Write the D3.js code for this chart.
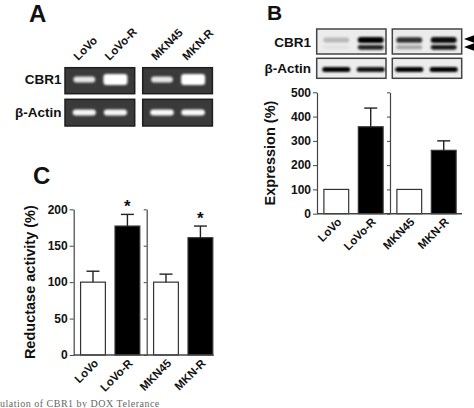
<!DOCTYPE html>
<html><head><meta charset="utf-8">
<script src="https://cdn.jsdelivr.net/npm/d3@7"></script>
<style>
body{margin:0;background:#fff}
svg{display:block}
text{font-family:"Liberation Sans",Arial,sans-serif;font-weight:bold;fill:#111}
</style>
</head><body><svg id="c" width="474" height="408"></svg>
<script>
// ---- data ----
const categories = ["LoVo", "LoVo-R", "MKN45", "MKN-R"];
const expressionValues = [100, 358, 100, 261];
const expressionErrors = [0, 77, 0, 39];
const reductaseValues = [100, 177, 100, 161];
const reductaseErrors = [15, 16, 11, 16];
const significant = [false, true, false, true];
const expressionTicks = [0, 100, 200, 300, 400, 500];
const reductaseTicks = [0, 50, 100, 150, 200];
const pcrCBR1 = [0.72, 1.0, 0.72, 1.0];
const pcrActin = [0.9, 0.9, 0.95, 0.95];
const wbCBR1Upper = [0.22, 1.0, 0.8, 0.95];
const wbCBR1Lower = [0.04, 0.85, 0.3, 0.9];
const wbActin = [1.0, 0.92, 1.0, 1.0];
const panelLetters = ["A", "B", "C"];
const caption = "ulation of CBR1 by DOX Telerance";

const svg = d3.select("#c");
svg.append("rect").attr("width", 474).attr("height", 408).attr("fill", "#fff");
const defs = svg.append("defs");
defs.append("filter").attr("id", "blurA").attr("x", "-50%").attr("y", "-100%").attr("width", "200%").attr("height", "300%")
  .append("feGaussianBlur").attr("stdDeviation", 1.3);
defs.append("filter").attr("id", "blurB").attr("x", "-50%").attr("y", "-100%").attr("width", "200%").attr("height", "300%")
  .append("feGaussianBlur").attr("stdDeviation", 0.9);

// ---- bar panel ----
function barPanel(opt) {
  const g = svg.append("g");
  const groupScale = d3.scaleBand().domain([0, 1]).range([opt.x0, opt.x0 + 2 * opt.gw]).padding(0);
  const inner = d3.scaleBand().domain([0, 1]).range([0, opt.gw]).paddingInner(0.28).paddingOuter(0.2);
  const bx = i => groupScale(Math.floor(i / 2)) + inner(i % 2);
  const bw = inner.bandwidth();
  const y = d3.scaleLinear().domain([0, opt.max]).range([opt.yb, opt.yt]);

  // bars
  g.selectAll("rect.bar").data(opt.values).join("rect")
    .attr("x", (d, i) => bx(i)).attr("width", bw)
    .attr("y", d => y(d)).attr("height", d => opt.yb - y(d))
    .attr("fill", (d, i) => i % 2 ? "#000" : "#fff")
    .attr("stroke", "#333").attr("stroke-width", 1.2);

  // error bars
  opt.values.forEach((v, i) => {
    const e = opt.errors[i];
    if (!e) return;
    const cx = bx(i) + bw / 2;
    g.append("line").attr("x1", cx).attr("x2", cx).attr("y1", y(v)).attr("y2", y(v + e))
      .attr("stroke", "#222").attr("stroke-width", 1.4);
    g.append("line").attr("x1", cx - 6.5).attr("x2", cx + 6.5).attr("y1", y(v + e)).attr("y2", y(v + e))
      .attr("stroke", "#222").attr("stroke-width", 1.4);
    if (opt.sig && opt.sig[i]) {
      g.append("text").attr("x", cx).attr("y", y(v + e) - 2).attr("text-anchor", "middle")
        .attr("font-size", 17).text("*");
    }
  });

  // axes
  const ax = g.append("g").attr("transform", `translate(${opt.x0},0)`)
    .call(d3.axisLeft(y).tickValues(opt.ticks).tickSize(4).tickSizeOuter(0).tickPadding(2));
  ax.selectAll("text").attr("font-size", 12).style("fill", "#111");
  const dx = opt.x0 + opt.gw;
  const ax2 = g.append("g").attr("transform", `translate(${dx},0)`)
    .call(d3.axisLeft(y).tickValues(opt.ticks).tickSize(3).tickSizeOuter(0).tickFormat(""));
  [ax, ax2].forEach(a => {
    a.select(".domain").attr("stroke", "#444").attr("stroke-width", 1.2);
    a.selectAll(".tick line").attr("stroke", "#444").attr("stroke-width", 1);
  });
  g.append("line").attr("x1", opt.x0).attr("x2", opt.x0 + 2 * opt.gw - opt.trim)
    .attr("y1", opt.yb).attr("y2", opt.yb).attr("stroke", "#444").attr("stroke-width", 1.4);

  // category labels
  categories.forEach((c, i) => {
    const cx = bx(i) + bw / 2;
    g.append("text").attr("transform", `translate(${cx + 6},${opt.yb + 9}) rotate(-45)`)
      .attr("text-anchor", "end").attr("font-size", 11.5).text(c);
  });

  // y title
  g.append("text").attr("transform", `translate(${opt.tx},${(opt.yt + opt.yb) / 2}) rotate(-90)`)
    .attr("text-anchor", "middle").attr("dy", "0.35em").attr("font-size", 14.5).text(opt.title);
  return bx;
}

const bxB = barPanel({x0: 317, gw: 73, yt: 92.3, yb: 213.7, max: 500, ticks: expressionTicks,
  values: expressionValues, errors: expressionErrors, title: "Expression (%)", tx: 270, trim: 1});
const bxC = barPanel({x0: 73.7, gw: 73, yt: 209.3, yb: 355, max: 200, ticks: reductaseTicks,
  values: reductaseValues, errors: reductaseErrors, sig: significant, title: "Reductase activity (%)", tx: 30, trim: 6});

// ---- panel A: RT-PCR gels ----
const gelA = [{x: 65, w: 69.7}, {x: 142.7, w: 69.7}];
const rowsA = [{y: 67.7, h: 26, data: pcrCBR1, cy: 79.5, label: "CBR1"}, {y: 99.3, h: 26.7, data: pcrActin, cy: 112.5, label: "β-Actin"}];
const laneA = d3.scalePoint().domain([0, 1]).range([0, 69.7]).padding(0.62);
rowsA.forEach(r => {
  gelA.forEach(gl => {
    svg.append("rect").attr("x", gl.x).attr("y", r.y).attr("width", gl.w).attr("height", r.h)
      .attr("fill", "#3a3a3a").attr("stroke", "#1e1e1e").attr("stroke-width", 1.5);
  });
  r.data.forEach((v, i) => {
    const gl = gelA[Math.floor(i / 2)];
    const cx = gl.x + laneA(i % 2);
    const w = 16 + 8 * v, h = r.label === "CBR1" ? 2 + 7 * (v - 0.6) / 0.4 + 2 : 6;
    svg.append("rect").attr("x", cx - w / 2).attr("y", r.cy - h / 2).attr("width", w).attr("height", h)
      .attr("rx", 3).attr("fill", "#fff").attr("opacity", 0.55 + 0.45 * v).attr("filter", "url(#blurA)");
  });
  svg.append("text").attr("x", 61.5).attr("y", r.cy).attr("dy", "0.36em").attr("text-anchor", "end")
    .attr("font-size", 13.5).text(r.label);
});
categories.forEach((c, i) => {
  const cx = gelA[Math.floor(i / 2)].x + laneA(i % 2);
  svg.append("text").attr("transform", `translate(${cx - 6},${61}) rotate(-45)`)
    .attr("font-size", 11.5).text(c);
});

// ---- panel B: western blots ----
const bwB = 24.8;
const gelB = [{x: 316.7, w: 69.3}, {x: 392.3, w: 69.4}];
const rowsB = [{y: 29, h: 25, label: "CBR1", cy: 42.5}, {y: 58.3, h: 20, label: "β-Actin", cy: 68.5}];
rowsB.forEach(r => {
  gelB.forEach(gl => {
    svg.append("rect").attr("x", gl.x).attr("y", r.y).attr("width", gl.w).attr("height", r.h)
      .attr("fill", "#ececec").attr("stroke", "#444").attr("stroke-width", 1.5);
  });
  svg.append("text").attr("x", 311).attr("y", r.cy).attr("dy", "0.36em").attr("text-anchor", "end")
    .attr("font-size", 13.5).text(r.label);
});
function wbBand(i, y, h, v, wScale) {
  const cx = bxB(i) + bwB / 2;
  const w = 26 * wScale;
  svg.append("rect").attr("x", cx - w / 2).attr("y", y - h / 2).attr("width", w).attr("height", h)
    .attr("rx", h / 2).attr("fill", "#000").attr("opacity", v).attr("filter", "url(#blurB)");
}
wbCBR1Upper.forEach((v, i) => wbBand(i, 40, 4.5 + 1.5 * v, v, 1));
wbCBR1Lower.forEach((v, i) => wbBand(i, 47.3, 3.5 + 1.5 * v, v, 1));
wbActin.forEach((v, i) => wbBand(i, 69.5, 5, v, 1.08));
// arrowheads
[39, 47].forEach(yy => {
  svg.append("path").attr("d", `M464,${yy} L474,${yy - 3.8} L474,${yy + 3.8} Z`).attr("fill", "#000");
});

// ---- panel letters ----
const letterPos = [[29, 22, 24], [267, 20, 21], [33, 183.5, 24]];
panelLetters.forEach((l, i) => {
  svg.append("text").attr("x", letterPos[i][0]).attr("y", letterPos[i][1]).attr("font-size", letterPos[i][2]).text(l);
});

// caption fragment
svg.append("text").attr("x", 0).attr("y", 407).attr("font-size", 10)
  .style("font-family", "'Liberation Serif',serif").style("font-weight", "normal").style("fill", "#666")
  .attr("letter-spacing", 0.5).text(caption);
</script>
</body></html>
